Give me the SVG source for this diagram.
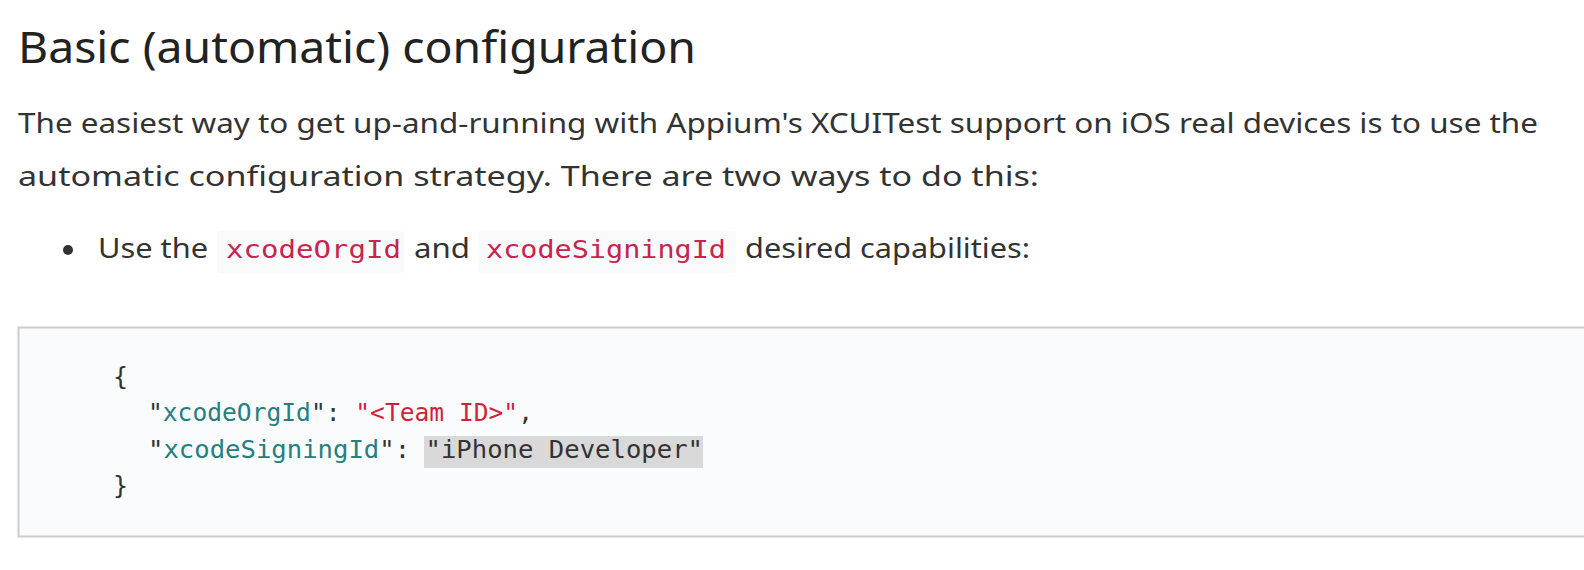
<svg xmlns="http://www.w3.org/2000/svg" width="1584" height="570" viewBox="0 0 1584 570">
<style>
.b{font-family:"Noto Sans","Open Sans",sans-serif;font-size:27px;fill:#333}
.m{font-family:"DejaVu Sans Mono","Liberation Mono",monospace;font-size:25px;fill:#333}
.r{fill:#c7254e}.t{fill:#267f80}.s{fill:#d41f3c}
</style>
<rect width="1584" height="570" fill="#fff"/>
<text x="18" y="63" font-family="Noto Sans,Open Sans,sans-serif" font-size="44" fill="#222" textLength="678" lengthAdjust="spacingAndGlyphs">Basic (automatic) configuration</text>
<text class="b" x="18" y="133" textLength="1520" lengthAdjust="spacingAndGlyphs">The easiest way to get up-and-running with Appium's XCUITest support on iOS real devices is to use the</text>
<text class="b" x="18" y="186" textLength="1021" lengthAdjust="spacingAndGlyphs">automatic configuration strategy. There are two ways to do this:</text>
<circle cx="68" cy="250" r="5" fill="#333"/>
<text class="b" x="98" y="258" textLength="110" lengthAdjust="spacingAndGlyphs">Use the</text>
<rect x="217" y="231" width="187" height="42" rx="3" fill="#f9fafc"/>
<text class="m r" x="226" y="258" font-size="28" textLength="175" lengthAdjust="spacingAndGlyphs">xcodeOrgId</text>
<text class="b" x="414" y="258" textLength="56" lengthAdjust="spacingAndGlyphs">and</text>
<rect x="478" y="231" width="258" height="42" rx="3" fill="#f9fafc"/>
<text class="m r" x="486" y="258" font-size="28" textLength="240" lengthAdjust="spacingAndGlyphs">xcodeSigningId</text>
<text class="b" x="745" y="258" textLength="285" lengthAdjust="spacingAndGlyphs">desired capabilities:</text>
<rect x="18.5" y="327.5" width="1580" height="209" fill="#fafbfd" stroke="#cccccc" stroke-width="2"/>
<rect x="424" y="436" width="279" height="32" fill="#d9d9d9"/>
<text class="m" x="113" y="385">{</text>
<text class="m" x="148" y="421" textLength="385" lengthAdjust="spacingAndGlyphs">"<tspan class="t">xcodeOrgId</tspan>": <tspan class="s">"&lt;Team ID&gt;"</tspan>,</text>
<text class="m" x="148" y="458" textLength="555" lengthAdjust="spacingAndGlyphs">"<tspan class="t">xcodeSigningId</tspan>": "iPhone Developer"</text>
<text class="m" x="113" y="494">}</text>
</svg>
